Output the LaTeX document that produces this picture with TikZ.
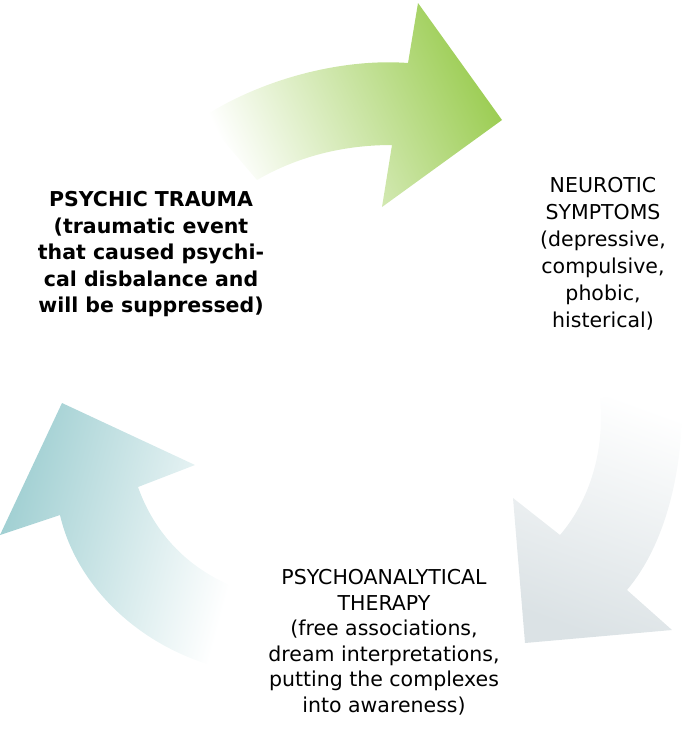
\documentclass[tikz,border=0pt]{standalone}
\usepackage{fontspec}
\setmainfont{DejaVu Sans}
\definecolor{leafgreen}{HTML}{9ACC50}
\definecolor{mistgrey}{HTML}{DBE2E5}
\definecolor{seateal}{HTML}{9ECED1}

\begin{document}
\begin{tikzpicture}[x=1pt,y=-1pt]
	 \tikzstyle{stage}=[align=center,inner sep=0pt,font=\fontsize{20.5}{27}\selectfont]
	 \tikzstyle{cause}=[stage,font=\fontsize{20.5}{26.5}\selectfont\bfseries]
	 \tikzstyle{sweep}=[draw=none]
	 \useasboundingbox (0,0) rectangle (685,734);
	 % curved arrows of the cycle
	 \path[sweep,top color=leafgreen,bottom color=white,shading angle=-65]
	   (203,117) .. controls (260,80) and (340,58) .. (408,63) -- (418,3) -- (502,120)
	   -- (382,207) -- (392,145) .. controls (340,145) and (295,158) .. (257,180) -- cycle;
	 \path[sweep,top color=mistgrey,bottom color=white,shading angle=160]
	   (682,385) .. controls (685,470) and (665,545) .. (627,590) -- (672,630) -- (525,643)
	   -- (513,498) -- (560,535) .. controls (590,500) and (605,450) .. (600,398) -- cycle;
	 \path[sweep,top color=seateal,bottom color=white,shading angle=75]
	   (62,403) -- (195,465) -- (138,487) .. controls (155,535) and (190,570) .. (237,588)
	   -- (210,665) .. controls (130,640) and (75,580) .. (60,515) -- (0,535) -- cycle;
	 % stages
	 \node[cause] (trauma) at (151,254.5) {PSYCHIC TRAUMA\\(traumatic event\\that caused psychi-\\cal disbalance and\\will be suppressed)};
	 \node[stage] (symptoms) at (603,253.5) {NEUROTIC\\SYMPTOMS\\(depressive,\\compulsive,\\phobic,\\histerical)};
	 \node[stage,font=\fontsize{20.5}{25.5}\selectfont] (therapy) at (384,642) {PSYCHOANALYTICAL\\THERAPY\\(free associations,\\dream interpretations,\\putting the complexes\\into awareness)};
\end{tikzpicture}
\end{document}
